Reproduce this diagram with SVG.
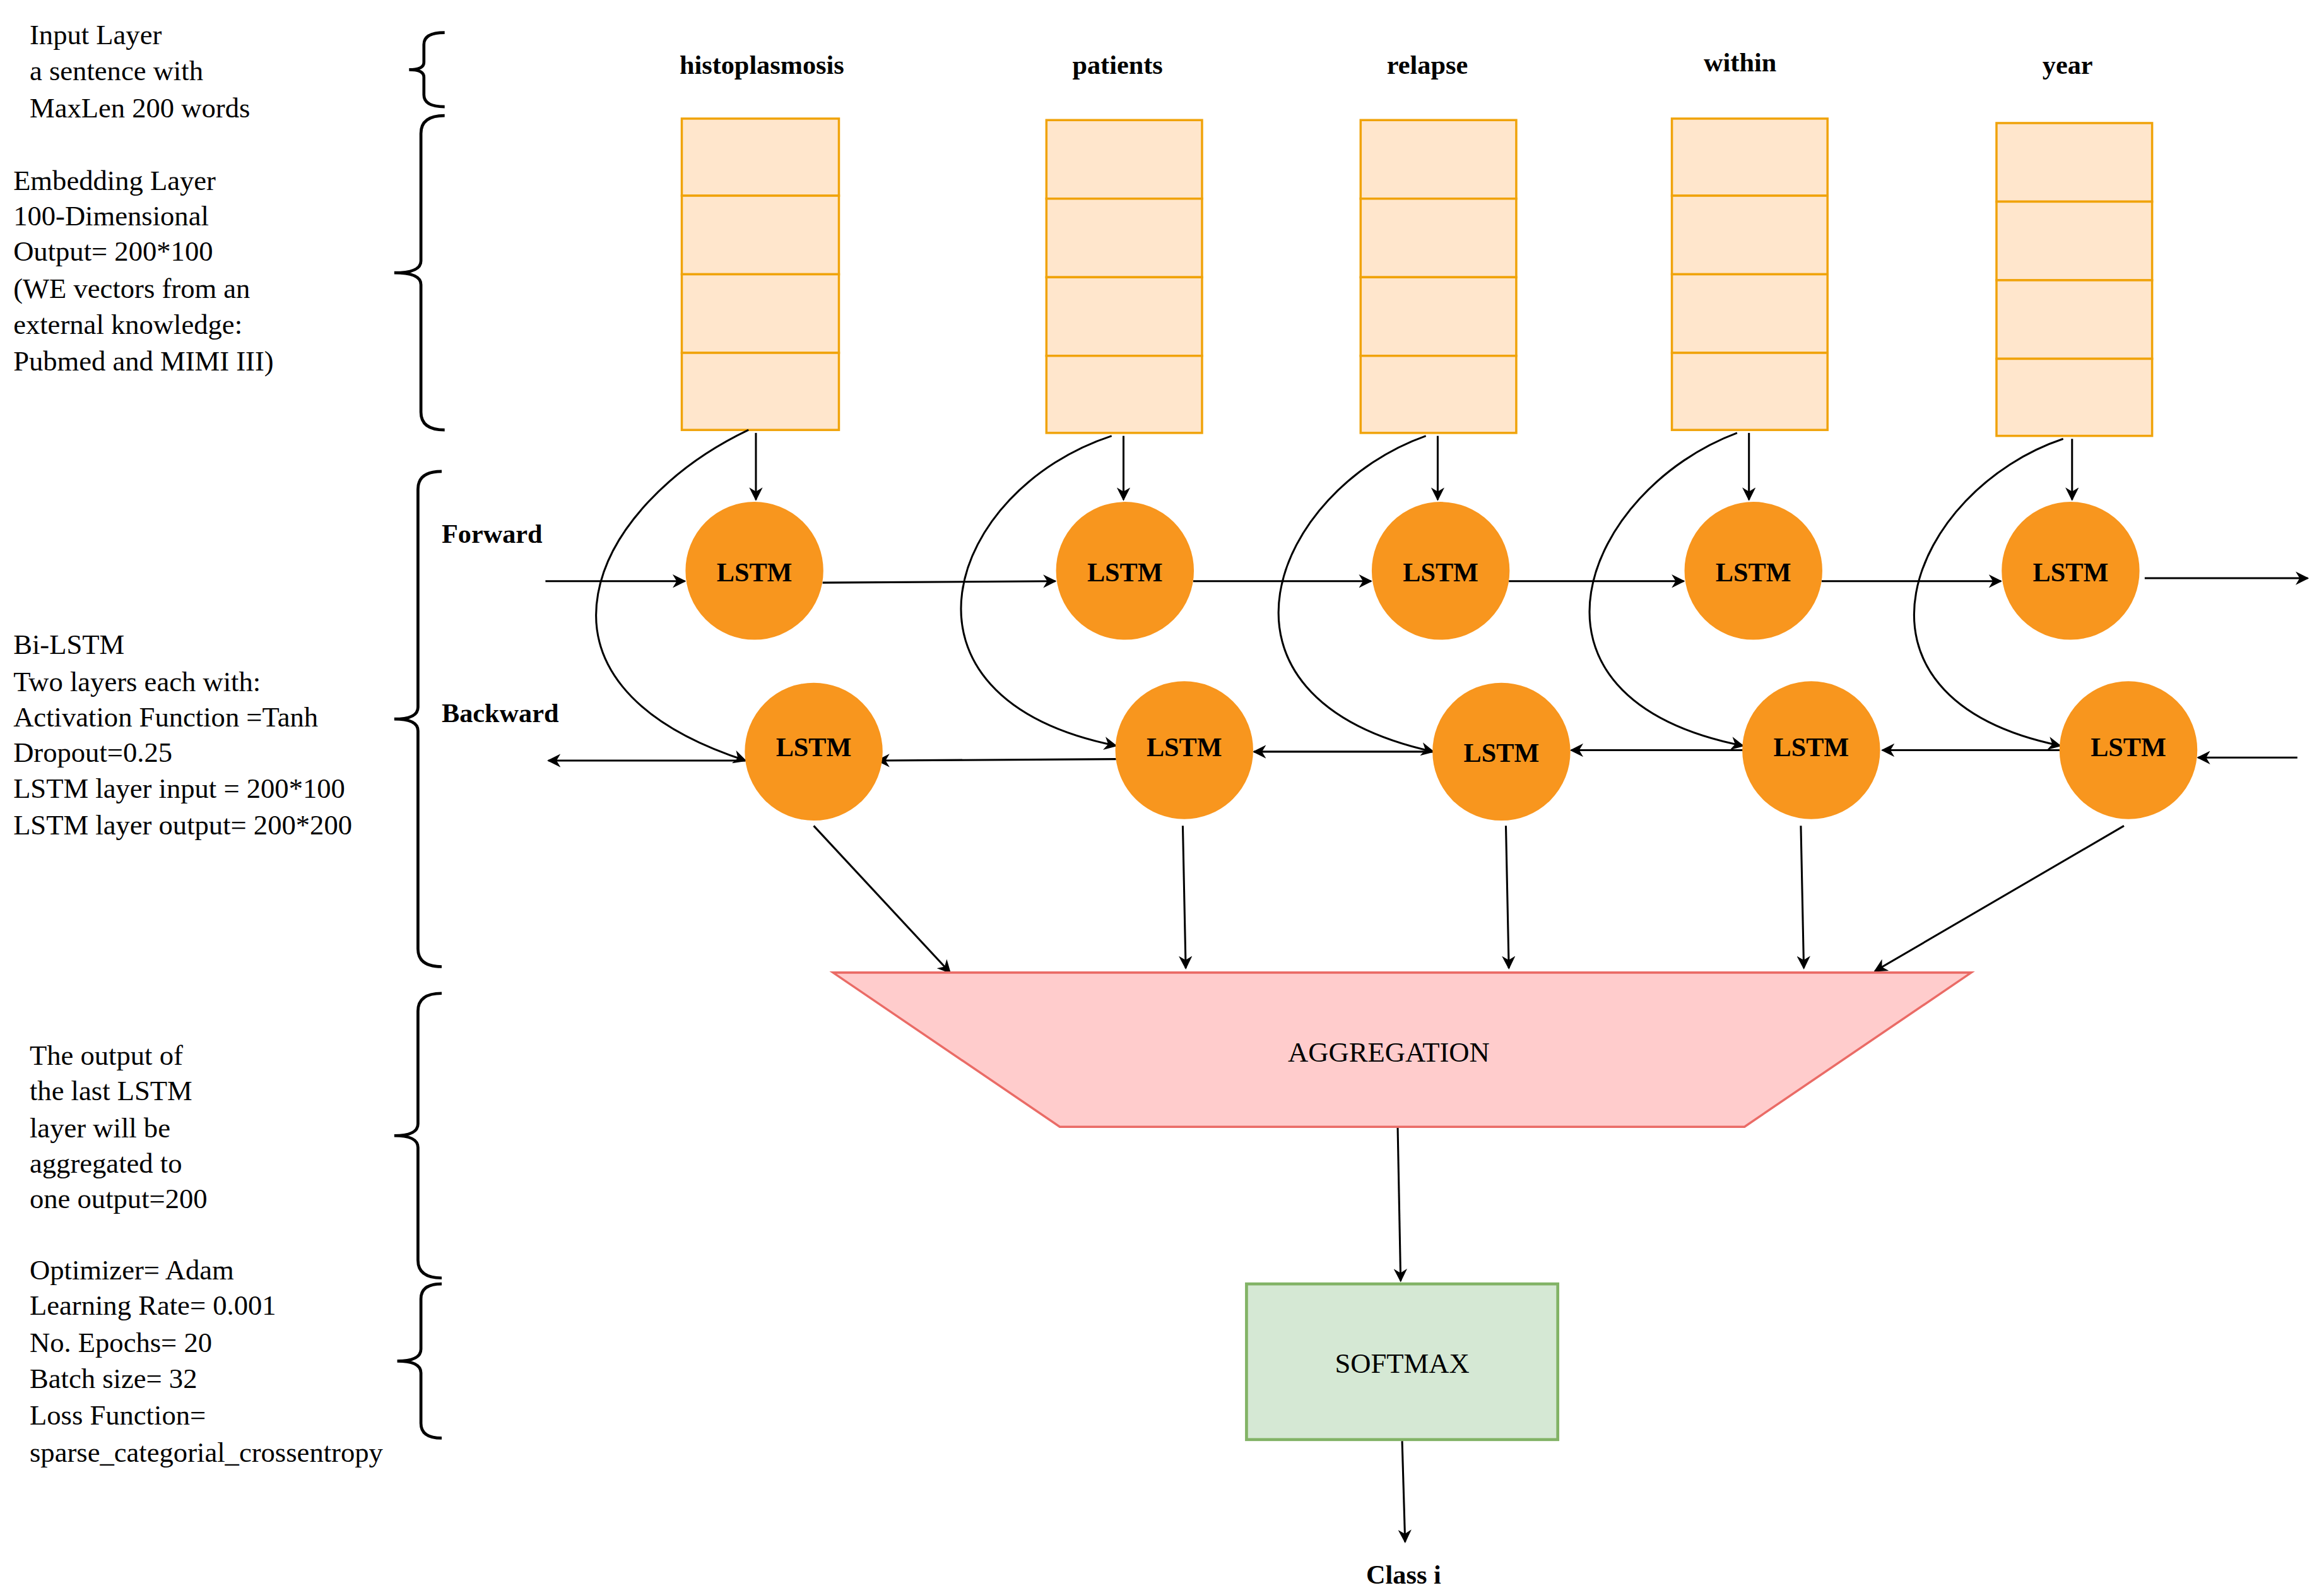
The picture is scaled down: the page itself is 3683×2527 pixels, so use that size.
<svg xmlns="http://www.w3.org/2000/svg" width="3683" height="2527" viewBox="0 0 3683 2527">
<style>
.t{font-family:"Liberation Serif",serif;font-size:19px;fill:#000}
.b{font-weight:bold;font-size:18px}
.cell{fill:#ffe6cc;stroke:#f0a30a;stroke-width:1.5}
.lstm{fill:#f8961e;stroke:#f8961e}
.ln{fill:none;stroke:#000;stroke-width:1.3}
.br{fill:none;stroke:#000;stroke-width:2}
</style>
<defs><marker id="a" viewBox="0 0 10 10" refX="9" refY="5" markerWidth="7" markerHeight="7" orient="auto-start-reverse"><path d="M0,0L10,5L0,10L3,5z" fill="#000"/></marker></defs>
<rect width="3683" height="2527" fill="#fff"/>
<g transform="scale(2.3489)">
<g id="left-text" class="t">
<text x="20" y="30">Input Layer</text><text x="20" y="54">a sentence with</text><text x="20" y="79">MaxLen 200 words</text>
<text x="9" y="128">Embedding Layer</text><text x="9" y="152">100-Dimensional</text><text x="9" y="176">Output= 200*100</text><text x="9" y="201">(WE vectors from an</text><text x="9" y="225">external knowledge:</text><text x="9" y="250">Pubmed and MIMI III)</text>
<text x="9" y="441">Bi-LSTM</text><text x="9" y="466">Two layers each with:</text><text x="9" y="490">Activation Function =Tanh</text><text x="9" y="514">Dropout=0.25</text><text x="9" y="538">LSTM layer input = 200*100</text><text x="9" y="563">LSTM layer output= 200*200</text>
<text x="20" y="718">The output of</text><text x="20" y="742">the last LSTM</text><text x="20" y="767">layer will be</text><text x="20" y="791">aggregated to</text><text x="20" y="815">one output=200</text>
<text x="20" y="863">Optimizer= Adam</text><text x="20" y="887">Learning Rate= 0.001</text><text x="20" y="912">No. Epochs= 20</text><text x="20" y="936">Batch size= 32</text><text x="20" y="961">Loss Function=</text><text x="20" y="986">sparse_categorial_crossentropy</text>
<text x="298" y="366" class="b">Forward</text><text x="298" y="487" class="b">Backward</text>
</g>
<g id="braces" class="br">
<path d="M300,22 Q286,22 286,30 L286,42 Q286,47 276,47 Q286,47 286,52 L286,64 Q286,72 300,72"/>
<path d="M300,78 Q284,78 284,90 L284,176 Q284,184 266,184 Q284,184 284,192 L284,278 Q284,290 300,290"/>
<path d="M298,318 Q282,318 282,330 L282,477 Q282,485 266,485 Q282,485 282,493 L282,640 Q282,652 298,652"/>
<path d="M298,670 Q282,670 282,682 L282,758 Q282,766 266,766 Q282,766 282,774 L282,850 Q282,862 298,862"/>
<path d="M298,866 Q284,866 284,876 L284,910 Q284,918 268,918 Q284,918 284,926 L284,960 Q284,970 298,970"/>
</g>
<g id="words" class="t b" text-anchor="middle">
<text x="514" y="50">histoplasmosis</text><text x="754" y="50">patients</text><text x="963" y="50">relapse</text><text x="1174" y="48">within</text><text x="1395" y="50">year</text>
</g>
<g id="emb1"><rect class="cell" x="460" y="80" width="106" height="52"/><rect class="cell" x="460" y="132" width="106" height="53"/><rect class="cell" x="460" y="185" width="106" height="53"/><rect class="cell" x="460" y="238" width="106" height="52"/></g>
<g id="emb2"><rect class="cell" x="706" y="81" width="105" height="53"/><rect class="cell" x="706" y="134" width="105" height="53"/><rect class="cell" x="706" y="187" width="105" height="53"/><rect class="cell" x="706" y="240" width="105" height="52"/></g>
<g id="emb3"><rect class="cell" x="918" y="81" width="105" height="53"/><rect class="cell" x="918" y="134" width="105" height="53"/><rect class="cell" x="918" y="187" width="105" height="53"/><rect class="cell" x="918" y="240" width="105" height="52"/></g>
<g id="emb4"><rect class="cell" x="1128" y="80" width="105" height="52"/><rect class="cell" x="1128" y="132" width="105" height="53"/><rect class="cell" x="1128" y="185" width="105" height="53"/><rect class="cell" x="1128" y="238" width="105" height="52"/></g>
<g id="emb5"><rect class="cell" x="1347" y="83" width="105" height="53"/><rect class="cell" x="1347" y="136" width="105" height="53"/><rect class="cell" x="1347" y="189" width="105" height="53"/><rect class="cell" x="1347" y="242" width="105" height="52"/></g>
<g id="connectors" class="ln" marker-end="url(#a)">
<path d="M510,292V337"/><path d="M758,294V337"/><path d="M970,294V337"/><path d="M1180,292V337"/><path d="M1398,296V337"/>
<path d="M368,392H462"/><path d="M555,393L712,392"/><path d="M805,392L925,392"/><path d="M1018,392L1136,392"/><path d="M1229,392L1350,392"/><path d="M1447,390L1557,390"/>
<path d="M1550,511L1483,511"/><path d="M1390,506L1270,506"/><path d="M1176,506L1060,506"/><path d="M967,507L846,507"/><path d="M753,512L592,513"/><path d="M503,513L370,513"/>
<path d="M505,290C400,340 340,460 503,513"/><path d="M750,294C640,330 590,470 753,503"/><path d="M962,294C860,330 800,470 967,507"/><path d="M1172,292C1070,330 1010,470 1176,503"/><path d="M1392,296C1290,330 1230,470 1390,503"/>
<path d="M549,557L641,656"/><path d="M798,557L800,653"/><path d="M1016,557L1018,653"/><path d="M1215,557L1217,653"/><path d="M1433,557L1265,655"/>
<path d="M943,760L945,864"/><path d="M946,972L948,1040"/>
</g>
<g id="fwd" class="t b" text-anchor="middle">
<circle class="lstm" cx="509" cy="385" r="46"/><text x="509" y="392">LSTM</text>
<circle class="lstm" cx="759" cy="385" r="46"/><text x="759" y="392">LSTM</text>
<circle class="lstm" cx="972" cy="385" r="46"/><text x="972" y="392">LSTM</text>
<circle class="lstm" cx="1183" cy="385" r="46"/><text x="1183" y="392">LSTM</text>
<circle class="lstm" cx="1397" cy="385" r="46"/><text x="1397" y="392">LSTM</text>
</g>
<g id="bwd" class="t b" text-anchor="middle">
<circle class="lstm" cx="549" cy="507" r="46"/><text x="549" y="510">LSTM</text>
<circle class="lstm" cx="799" cy="506" r="46"/><text x="799" y="510">LSTM</text>
<circle class="lstm" cx="1013" cy="507" r="46"/><text x="1013" y="514">LSTM</text>
<circle class="lstm" cx="1222" cy="506" r="46"/><text x="1222" y="510">LSTM</text>
<circle class="lstm" cx="1436" cy="506" r="46"/><text x="1436" y="510">LSTM</text>
</g>
<g id="aggregation"><path d="M562,656H1330L1177,760H715Z" fill="#ffcccc" stroke="#ea6b66" stroke-width="1.5"/><text class="t" x="937" y="716" text-anchor="middle">AGGREGATION</text></g>
<g id="softmax"><rect x="841" y="866" width="210" height="105" fill="#d5e8d4" stroke="#82b366" stroke-width="2"/><text class="t" x="946" y="926" text-anchor="middle">SOFTMAX</text></g>
<g id="class"><text class="t b" x="947" y="1068" text-anchor="middle">Class i</text></g>
</g>
</svg>
